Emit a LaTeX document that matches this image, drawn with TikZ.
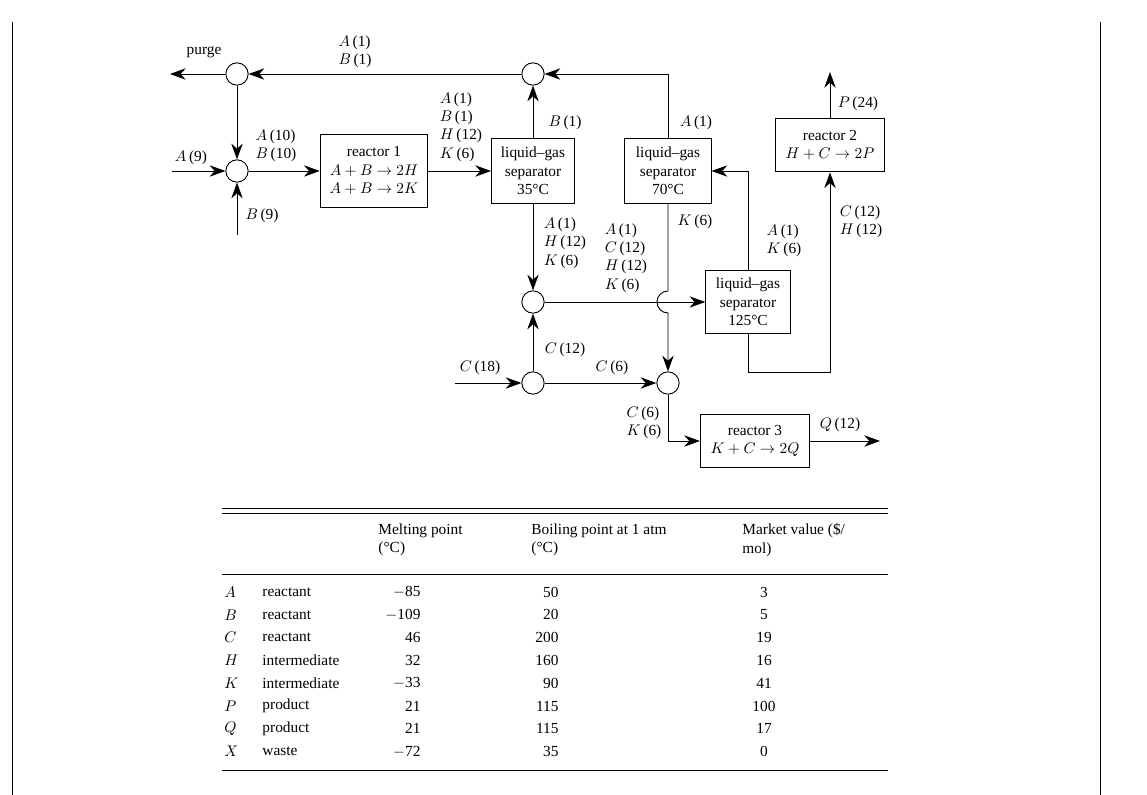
\documentclass[tikz,border=0pt]{standalone}
\usepackage{fontspec}
\setmainfont{Liberation Serif}
\usetikzlibrary{arrows.meta}
\tikzset{>={Stealth[length=3.6mm,width=2.6mm]}}
\newcommand{\fl}[2]{$#1$\,(#2)}

\begin{document}
\begin{tikzpicture}[x=0.65pt, y=-0.65pt, semithick, font=\fontsize{10}{12}\selectfont,
  unit/.style = {draw, circle, minimum size=14.5pt, inner sep=0pt},
  box/.style = {draw, align=center, inner sep=0pt},
  lbl/.style = {align=left, inner sep=1pt}]
\useasboundingbox (0,0) rectangle (1147,795);
\draw[thin] (12,22) -- (12,795);
\draw[thin] (1100,22) -- (1100,795);
% units
\node[unit] (P) at (237,74) {};
\node[unit] (T) at (533,74) {};
\node[unit] (M1) at (237,171) {};
\node[unit] (M2) at (533,302) {};
\node[unit] (S) at (533,383) {};
\node[unit] (M3) at (668,383) {};
\node[box, minimum width=70pt, minimum height=48pt] (R1) at (374,171) {reactor 1\\ $A+B\rightarrow 2H$\\ $A+B\rightarrow 2K$};
\node[box, minimum width=54pt, minimum height=42pt] (L35) at (533,171) {liquid--gas\\ separator\\ 35\textdegree C};
\node[box, minimum width=56pt, minimum height=42pt] (L70) at (668,171) {liquid--gas\\ separator\\ 70\textdegree C};
\node[box, minimum width=71pt, minimum height=35pt] (R2) at (830,145) {reactor 2\\ $H+C\rightarrow 2P$};
\node[box, minimum width=55pt, minimum height=41pt] (L125) at (748,302) {liquid--gas\\ separator\\ 125\textdegree C};
\node[box, minimum width=71pt, minimum height=34pt] (R3) at (755,441) {reactor 3\\ $K+C\rightarrow 2Q$};
\coordinate (purge) at (170,74);
\coordinate (feedA) at (172,171);
\coordinate (feedB) at (237,235);
\coordinate (feedC) at (455,383);
\coordinate (outP) at (830,72);
\coordinate (outQ) at (880,441);
% streams
\draw[->] (P) -- (purge);
\draw[->] (T) -- (P);
\draw[->] (L70.north) |- (T);
\draw[->] (L35.north) -- (T);
\draw[->] (P) -- (M1);
\draw[->] (feedA) -- (M1);
\draw[->] (feedB) -- (M1);
\draw[->] (M1) -- (R1);
\draw[->] (R1) -- (L35);
\draw[->] (L35.south) -- (M2);
\draw[->] (S) -- (M2);
\draw[->] (feedC) -- (S);
\draw[->] (S) -- (M3);
\draw[->] (M2) -- (L125);
\draw[->] (L70.south) -- (668,291) arc[start angle=90, end angle=270, radius=11*0.65pt] -- (M3);
\draw[->] (L125.north) |- (L70.east);
\draw[->] (L125.south) |- (830,372) -- (R2.south);
\draw[->] (R2) -- (outP);
\draw[->] (M3) |- (R3);
\draw[->] (R3) -- (outQ);
% labels
\node at (204,52) {purge};
\node[lbl] at (355,52) {\fl{A}{1}\\ \fl{B}{1}};
\node[lbl] at (191,158) {\fl{A}{9}};
\node[lbl] at (276,146) {\fl{A}{10}\\ \fl{B}{10}};
\node[lbl] at (262,216) {\fl{B}{9}};
\node[lbl] at (461,127) {\fl{A}{1}\\ \fl{B}{1}\\ \fl{H}{12}\\ \fl{K}{6}};
\node[lbl] at (565,123) {\fl{B}{1}};
\node[lbl] at (696,123) {\fl{A}{1}};
\node[lbl] at (858,104) {\fl{P}{24}};
\node[lbl] at (861,222) {\fl{C}{12}\\ \fl{H}{12}};
\node[lbl] at (695,222) {\fl{K}{6}};
\node[lbl] at (784,241) {\fl{A}{1}\\ \fl{K}{6}};
\node[lbl] at (565,243) {\fl{A}{1}\\ \fl{H}{12}\\ \fl{K}{6}};
\node[lbl] at (626,258) {\fl{A}{1}\\ \fl{C}{12}\\ \fl{H}{12}\\ \fl{K}{6}};
\node[lbl] at (565,350) {\fl{C}{12}};
\node[lbl] at (480,368) {\fl{C}{18}};
\node[lbl] at (612,368) {\fl{C}{6}};
\node[lbl] at (644,423) {\fl{C}{6}\\ \fl{K}{6}};
\node[lbl] at (840,425) {\fl{Q}{12}};
% table
\draw (222,508) -- (888,508);
\draw (222,513) -- (888,513);
\draw (222,574) -- (888,574);
\draw (222,770) -- (888,770);
\node[anchor=north west, lbl, inner sep=0pt] at (378,523) {Melting point\\ (\textdegree C)};
\node[anchor=north west, lbl, inner sep=0pt] at (531,523) {Boiling point at 1 atm\\ (\textdegree C)};
\node[anchor=north west, lbl, inner sep=0pt] at (742,523) {Market value (\$/\\ mol)};
\foreach \c/\r/\m/\b/\v [count=\i from 0] in {A/reactant/$-$85/50/3, B/reactant/$-$109/20/5, C/reactant/46/200/19,
  H/intermediate/32/160/16, K/intermediate/$-$33/90/41, P/product/21/115/100, Q/product/21/115/17, X/waste/$-$72/35/0}{
  \node[anchor=west, inner sep=0pt] at (224,592+22.8*\i) {$\c$};
  \node[anchor=west, inner sep=0pt] at (262,592+22.8*\i) {\r};
  \node[anchor=east, inner sep=0pt] at (421,592+22.8*\i) {\m};
  \node[anchor=east, inner sep=0pt] at (559,592+22.8*\i) {\b};
  \node[inner sep=0pt] at (764,592+22.8*\i) {\v};
}
\end{tikzpicture}
\end{document}
